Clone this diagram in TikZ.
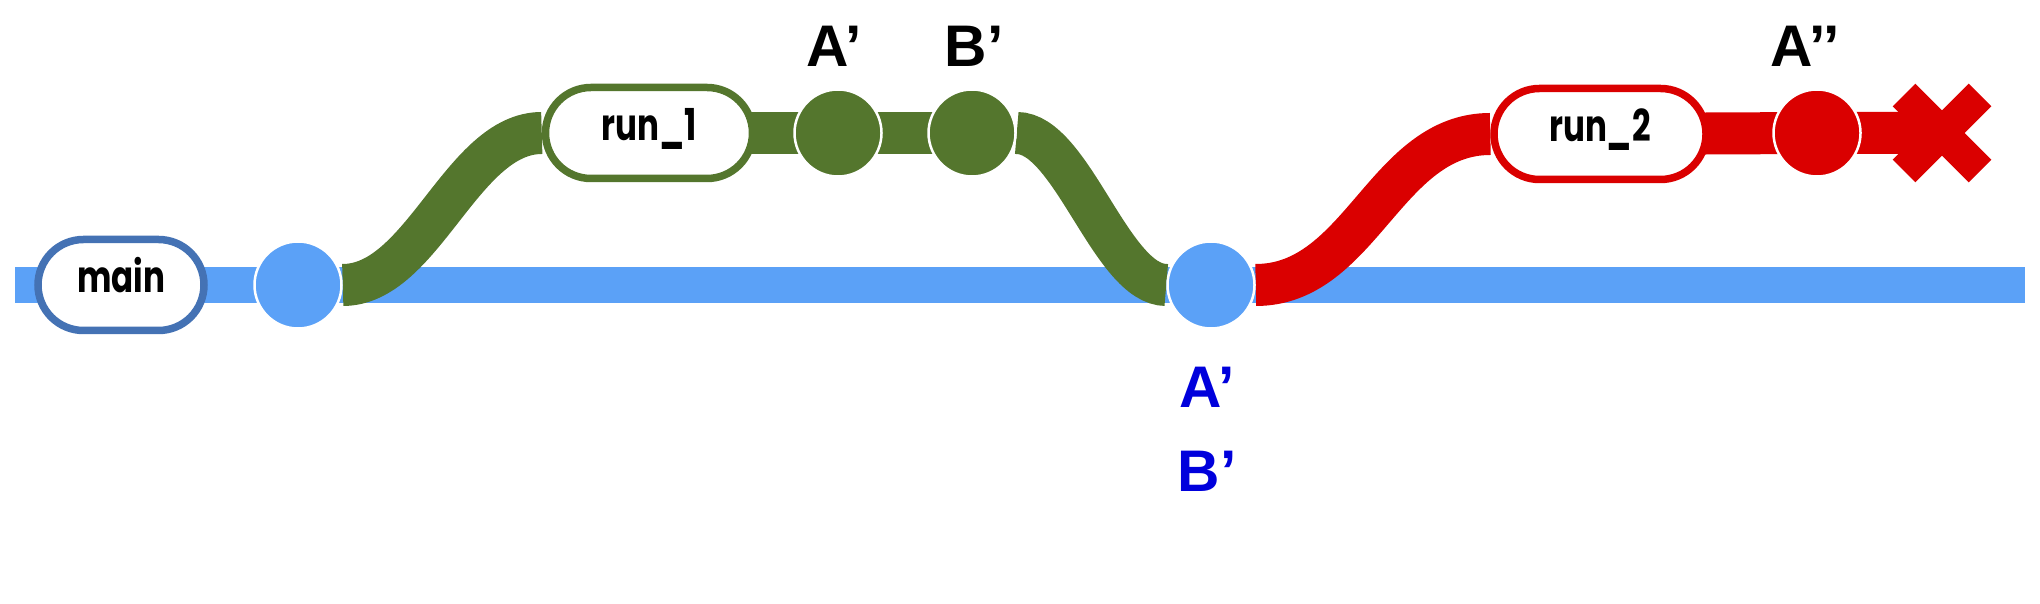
\documentclass[tikz,border=0pt]{standalone}
\usepackage{fontspec}
\usepackage{tikz}
\usetikzlibrary{shapes.misc,calc,backgrounds}
\newfontfamily\pillfont[FakeStretch=0.74]{Poppins}
\newfontfamily\lblfont{Liberation Sans}
\definecolor{mainblue}{RGB}{91,161,247}
\definecolor{mainedge}{RGB}{68,114,180}
\definecolor{rungreen}{RGB}{84,118,45}
\definecolor{runred}{RGB}{218,0,0}
\definecolor{lblblue}{RGB}{0,0,220}

\begin{document}
\begin{tikzpicture}[x=0.1mm,y=-0.1mm,
    pill/.style={rounded rectangle,draw=#1,fill=white,line width=0.75mm,inner sep=0pt,
      minimum height=9.1mm,text height=1ex,text depth=0pt,
      font=\pillfont\bfseries\fontsize{12.5}{14}\selectfont},
    commit/.style={circle,fill=#1,draw=white,line width=0.25mm,minimum size=8.7mm,inner sep=0pt},
    band/.style={line width=4.2mm,color=#1},
    lbl/.style={anchor=base,font=\lblfont\bfseries\fontsize{16.7}{20}\selectfont}]
    % ramo main com dois ramos de execucao
    \useasboundingbox (0,0) rectangle (2040,604);
    \coordinate (mstart) at (15,285);
    \coordinate (mend) at (2025,285);
    \node[pill=mainedge,minimum width=16.6mm] (main) at (121,285) {main};
    \node[commit=mainblue] (c0) at (298,285) {};
    \node[pill=rungreen,minimum width=20.7mm] (run1) at (649,133) {run\_1};
    \node[commit=rungreen] (ga) at (838,133) {};
    \node[commit=rungreen] (gb) at (972,133) {};
    \node[commit=mainblue] (c1) at (1211,285) {};
    \node[pill=runred,minimum width=21.2mm] (run2) at (1600,134) {run\_2};
    \node[commit=runred] (ra) at (1817,133) {};
    \coordinate (stop) at (1942,133);
    \begin{scope}[on background layer]
      \draw[band=mainblue,line width=3.6mm] (mstart) -- (mend);
      \draw[band=rungreen] (c0.east) .. controls +(80,0) and +(-80,0) .. (run1.west);
      \draw[band=rungreen] (run1.center) -- (ga.center) -- (gb.center);
      \draw[band=rungreen] (gb.east) .. controls +(55,0) and +(-55,0) .. (c1.west);
      \draw[band=runred] (c1.east) .. controls +(105,0) and +(-105,0) .. (run2.west);
      \draw[band=runred] (run2.center) -- (ra.center) -- (stop);
    \end{scope}
    \draw[runred,line width=3.2mm] ($(stop)+(-38,-38)$) -- ($(stop)+(38,38)$)
      ($(stop)+(-38,38)$) -- ($(stop)+(38,-38)$);
    \node[lbl] (lA) at (834,67) {A’};
    \node[lbl] (lB) at (974,67) {B’};
    \node[lbl] (lA2) at (1805,67) {A’’};
    \node[lbl,text=lblblue] (mA) at (1207,408) {A’};
    \node[lbl,text=lblblue] (mB) at (1207,492) {B’};
\end{tikzpicture}
\end{document}
